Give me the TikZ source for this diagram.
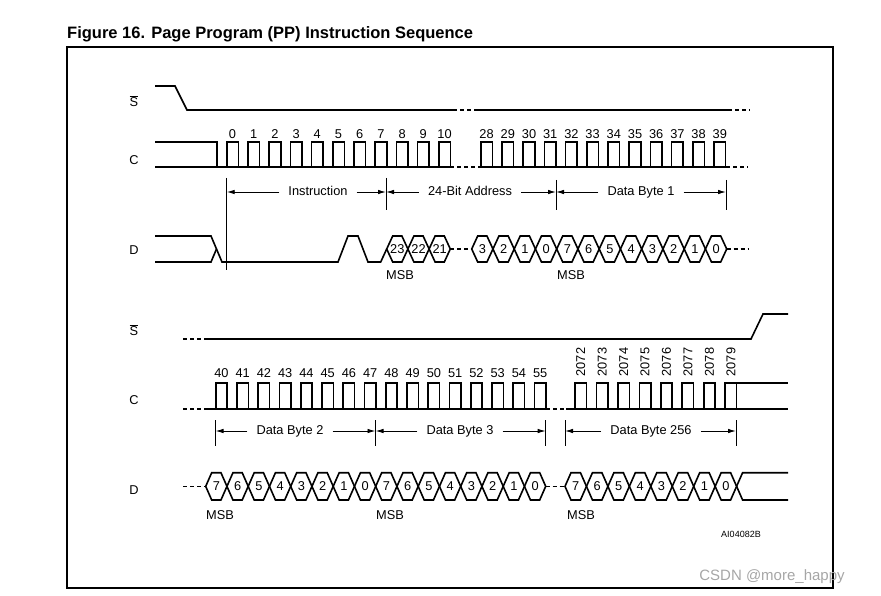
\documentclass[tikz,border=0pt]{standalone}
\usepackage{fontspec}
\setmainfont{Liberation Sans}
\usetikzlibrary{arrows.meta}
\newcommand\hexrow[5]{% start, width, top, bot, labels
  \foreach \l [count=\i from 0] in {#5} {
    \pgfmathsetmacro\ha{#1+#2*\i}\pgfmathsetmacro\hb{\ha+#2}
    \draw[sig] (\ha,{(#3+#4)/2})--(\ha+6,#3)--(\hb-6,#3)--(\hb,{(#3+#4)/2})--(\hb-6,#4)--(\ha+6,#4)--cycle;
    \node[txt] (h\i) at ({(\ha+\hb)/2},{(#3+#4)/2}) {\l};
  }}
\newcommand\pulses[6]{% first rise, period, high, top, bot, count-1
  \foreach \k in {0,...,#6} {
    \pgfmathsetmacro\xr{#1+#2*\k}
    \draw[sig] (\xr,#5)--(\xr,#4)--(\xr+#3,#4)--(\xr+#3,#5);
  }}
\newcommand\tspan[5]{% x1,x2,y,label,xlabel
  \node[txt,inner xsep=9pt,text height=9pt,text depth=2.5pt] (sp) at (#5,#3) {#4};
  \draw[arr] (sp.west)--(#1,#3);
  \draw[arr] (sp.east)--(#2,#3);}
\begin{document}
\begin{tikzpicture}[x=1pt,y=-1pt,
  sig/.style={line width=1.6pt,line join=miter},
  dsh/.style={line width=1.6pt,dash pattern=on 4pt off 3pt},
  txt/.style={font=\fontsize{12.8}{15}\selectfont,inner sep=0pt},
  arr/.style={line width=0.9pt,-{Latex[length=8pt,width=4.5pt]}},
  mk/.style={line width=0.9pt}]
\useasboundingbox (0,0) rectangle (881,596);
\node[anchor=west,font=\bfseries\fontsize{16.5}{18}\selectfont,inner sep=0pt] (title) at (67,34) {Figure 16. Page Program (PP) Instruction Sequence};
\draw[line width=1.3pt] (67,47) rectangle (833,588);
% ---------- row 1 -------------
\node[txt] (s1) at (134,101) {$\overline{\hbox{S}}$};
\node[txt] (c1) at (134,160) {C};
\node[txt] (d1) at (134,250) {D};
% S
\draw[sig] (155,86)--(175,86)--(187,110)--(453,110);
\draw[dsh] (453,110)--(476,110);
\draw[sig] (476,110)--(728,110);
\draw[dsh] (728,110)--(750,110);
% C
\draw[sig] (155,142)--(217,142)--(217,167);
\draw[sig] (155,167)--(227,167);
\draw[sig] (227,167)--(450,167);
\pulses{226.7}{21.2}{11.6}{142}{167}{10}
\draw[dsh] (450,167)--(480,167);
\draw[sig] (480,167)--(726,167);
\pulses{480.8}{21.2}{11.6}{142}{167}{11}
\draw[dsh] (726,167)--(748,167);
\foreach \n [count=\i from 0] in {0,...,10}
  \node[txt] (n\n) at (232.5+21.2*\i,134) {\n};
\foreach \n [count=\i from 0] in {28,...,39}
  \node[txt] (n\n) at (486.6+21.2*\i,134) {\n};
% spans
\draw[mk] (226.7,178)--(226.7,270);
\draw[mk] (386,178)--(386,210);
\draw[mk] (556,180)--(556,210);
\draw[mk] (726,180)--(726,210);
\tspan{226.7}{386}{192}{Instruction}{318}
\tspan{386}{556}{192}{24-Bit Address}{470}
\tspan{556}{726}{192}{Data Byte 1}{641}
% D
\draw[sig] (155,236)--(211,236)--(222,262)--(338,262)--(348,236)--(358,236)--(368,262)--(380.7,262)--(386.7,249);
\draw[sig] (155,262)--(211,262)--(216.5,249);
\hexrow{386.7}{21.2}{236}{262}{23,22,21}
\draw[dsh] (450.3,249)--(471.7,249);
\hexrow{471.7}{21.25}{236}{262}{3,2,1,0,7,6,5,4,3,2,1,0}
\draw[dsh] (726.7,249)--(748,249);
\node[txt] (m1) at (400,275) {MSB};
\node[txt] (m2) at (571,275) {MSB};
% ---------- row 2 -------------
\node[txt] (s2) at (134,330) {$\overline{\hbox{S}}$};
\node[txt] (c2) at (134,400) {C};
\node[txt] (d2) at (134,490) {D};
\draw[dsh] (183,339)--(206,339);
\draw[sig] (206,339)--(751,339)--(763,314)--(788,314);
% C
\draw[dsh] (183,408.7)--(206,408.7);
\draw[sig] (206,408.7)--(546,408.7);
\pulses{215.7}{21.25}{11.4}{382.7}{408.7}{15}
\draw[dsh] (546,408.7)--(566,408.7);
\draw[sig] (566,408.7)--(736,408.7);
\pulses{575}{21.45}{11.4}{382.7}{408.7}{7}
\draw[sig] (736,382.7)--(788,382.7);
\draw[sig] (736,408.7)--(788,408.7);
\foreach \n [count=\i from 0] in {40,...,55}
  \node[txt] (n\n) at (221.4+21.25*\i,373) {\n};
\foreach \n [count=\i from 0] in {2072,2073,2074,2075,2076,2077,2078,2079}
  \node[txt,rotate=90] (n\n) at (580.7+21.45*\i,362) {\n};
% spans
\draw[mk] (215.5,420)--(215.5,446);
\draw[mk] (375.5,420)--(375.5,446);
\draw[mk] (545.7,420)--(545.7,446);
\draw[mk] (565,420)--(565,446);
\draw[mk] (736,420)--(736,446);
\tspan{215.5}{375.5}{431}{Data Byte 2}{290}
\tspan{375.5}{545.7}{431}{Data Byte 3}{460}
\tspan{565}{736}{431}{Data Byte 256}{651}
% D
\draw[dsh] (183,486.3)--(205.7,486.3);
\hexrow{205.7}{21.25}{472.7}{500}{7,6,5,4,3,2,1,0,7,6,5,4,3,2,1,0}
\draw[dsh] (545.7,486.3)--(565,486.3);
\hexrow{565}{21.45}{472.7}{500}{7,6,5,4,3,2,1,0}
\draw[sig] (736.6,486.3)--(742.6,472.7)--(788,472.7);
\draw[sig] (736.6,486.3)--(742.6,500)--(788,500);
\node[txt] (m3) at (220,515) {MSB};
\node[txt] (m4) at (390,515) {MSB};
\node[txt] (m5) at (581,515) {MSB};
\node[font=\fontsize{9}{10}\selectfont,inner sep=0pt] (ai) at (741,534) {AI04082B};
\node[font=\fontsize{15}{17}\selectfont,text=gray!70,inner sep=0pt] (wm) at (772,577) {CSDN @more\_happy};
\end{tikzpicture}
\end{document}
